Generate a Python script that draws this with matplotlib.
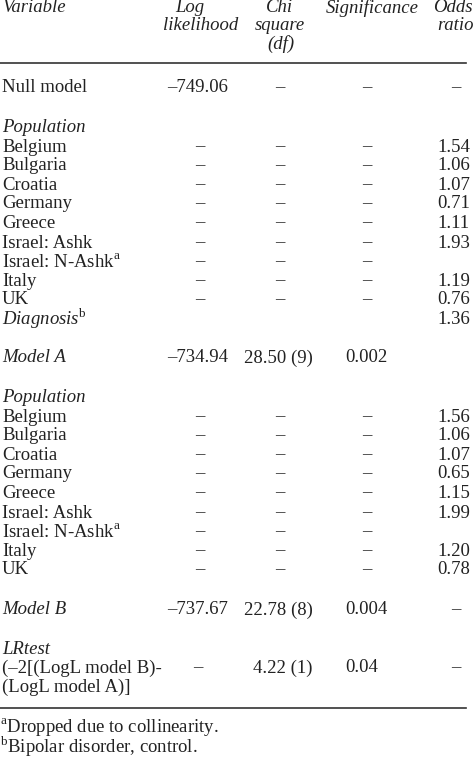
import matplotlib
matplotlib.use("Agg")
import matplotlib.pyplot as plt

D = "–"
variables = ["Null model", "Population", "Belgium", "Bulgaria", "Croatia", "Germany", "Greece",
             "Israel: Ashk", "Israel: N-Ashk$^{\\mathrm{a}}$", "Italy", "UK", "Diagnosis$^{\\mathrm{b}}$",
             "Model A", "Population", "Belgium", "Bulgaria", "Croatia", "Germany", "Greece",
             "Israel: Ashk", "Israel: N-Ashk$^{\\mathrm{a}}$", "Italy", "UK", "Model B", "LRtest"]
italic = [False, True] + [False]*9 + [True, True, True] + [False]*9 + [True, True]
log_lik = ["–749.06", None] + [D]*9 + [None, "–734.94", None] + [D]*9 + ["–737.67", None]
chi_sq = [D, None] + [D]*9 + [None, "28.50 (9)", None] + [D]*9 + ["22.78 (8)", None]
signif = [D, None] + [D]*9 + [None, "0.002", None] + [D]*9 + ["0.004", None]
odds = [D, None, "1.54", "1.06", "1.07", "0.71", "1.11", "1.93", None, "1.19", "0.76", "1.36",
        None, None, "1.56", "1.06", "1.07", "0.65", "1.15", "1.99", None, "1.20", "0.78", D, None]
ypos = [88, 128, 147, 166, 185, 204, 223, 243, 262, 281, 300, 319, 358, 398, 417, 436, 455, 474,
        493, 513, 532, 551, 570, 610, 649]
lr_lines = ["(–2[(LogL model B)-", "(LogL model A)]"]
lr_vals = [D, "4.22 (1)", "0.04", D]
footnotes = ["$^{\\mathrm{a}}$Dropped due to collinearity.", "$^{\\mathrm{b}}$Bipolar disorder, control."]

plt.rcParams['font.family'] = ['Liberation Serif', 'DejaVu Serif']
plt.rcParams['mathtext.fontset'] = 'custom'
plt.rcParams['mathtext.rm'] = 'Liberation Serif'
fig = plt.figure(figsize=(4.74, 7.62), dpi=100)
ax = fig.add_axes([0, 0, 1, 1])
ax.set_xlim(0, 474); ax.set_ylim(762, 0); ax.axis('off')
fs = 13.5
col = '#222222'

def t(x, y, s, ha='left', it=False):
    ax.text(x, y, s, ha=ha, va='center', fontsize=fs, color=col, style='italic' if it else 'normal')

def dash_or(x_num, x_dash, y, v, ha):
    if v is None: return
    if v == D: t(x_dash, y, v, 'center')
    else: t(x_num, y, v, ha)

# header
t(2, 8, "Variable", it=True)
t(190, 8, "Log", 'center', True); t(201, 26, "likelihood", 'center', True)
t(280, 8, "Chi", 'center', True); t(280, 26, "square", 'center', True); t(281, 44, "(df)", 'center', True)
t(326, 8, "Significance", it=True)
t(433, 8, "Odds", it=True); t(437, 26, "ratio", it=True)
ax.plot([0, 466], [63, 63], color='#333333', lw=1.2)

for lab, it, y, a, b, c, d in zip(variables, italic, ypos, log_lik, chi_sq, signif, odds):
    t(2, y, lab, it=it)
    dash_or(228, 200, y, a, 'right')
    dash_or(313, 280, y, b, 'right')
    dash_or(345, 367, y, c, 'left')
    dash_or(470, 456, y, d, 'right')

for i, s in enumerate(lr_lines):
    t(2, 668 + 19*i, s)
dash_or(228, 198, 668, lr_vals[0], 'right')
dash_or(313, 280, 668, lr_vals[1], 'right')
dash_or(345, 367, 668, lr_vals[2], 'left')
dash_or(470, 456, 668, lr_vals[3], 'right')
ax.plot([0, 466], [708, 708], color='#333333', lw=1.2)

t(0, 727, footnotes[0]); t(0, 747, footnotes[1])
fig.savefig("out.png", dpi=100, facecolor='white')
